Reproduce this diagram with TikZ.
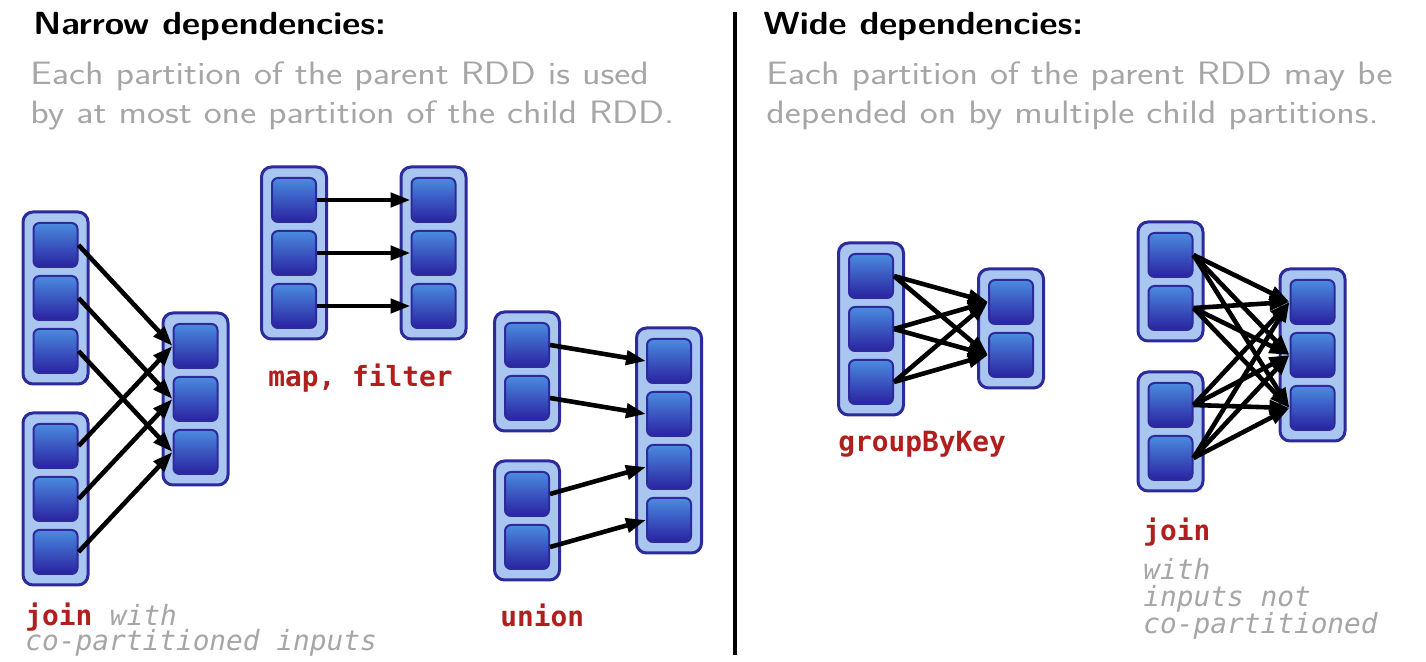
\documentclass[tikz,border=0pt]{standalone}
\usepackage{fontspec}
\usetikzlibrary{arrows.meta}
\newfontfamily\codefont{DejaVu Sans Mono}
\definecolor{rddfill}{HTML}{A9C6F0}
\definecolor{rddline}{HTML}{2D2A9C}
\definecolor{sqtop}{HTML}{4A8BDF}
\definecolor{sqbot}{HTML}{2A22A0}
\definecolor{txtgray}{HTML}{A6A6A6}
\definecolor{opred}{HTML}{B01E1E}
\newcommand\rdd[4]{% name, cx, top, n
  \draw[rddouter] ({#2-32.5},{#3}) rectangle ({#2+32.5},{#3+13+53*#4});
  \foreach \i in {1,...,#4}{
    \node[part] (#1-\i) at ({#2},{#3+33+53*(\i-1)}) {};
  }
}
\newcommand\hwide[1]{\scalebox{1.10}[1]{#1}}
\newcommand\dwide[1]{\scalebox{1.18}[1]{#1}}
\tikzset{
  rddouter/.style={fill=rddfill, draw=rddline, line width=1.5pt, rounded corners=5pt},
  part/.style={draw=rddline, line width=1pt, rounded corners=3pt, top color=sqtop, bottom color=sqbot, minimum size=22pt, inner sep=0pt},
  arr/.style={line width=2.3pt, -{Triangle[length=10pt,width=7pt]}},
  heading/.style={anchor=base west, inner sep=0pt, font=\sffamily\bfseries\fontsize{16}{19}\selectfont},
  desc/.style={anchor=base west, inner sep=0pt, text=txtgray, font=\sffamily\fontsize{16.2}{19}\selectfont},
  op/.style={anchor=base west, inner sep=0pt, text=opred, font=\codefont\bfseries\fontsize{13.9}{16}\selectfont},
  note/.style={anchor=base west, inner sep=0pt, text=txtgray, font=\codefont\itshape\fontsize{13.9}{16}\selectfont},
}
\begin{document}
\begin{tikzpicture}[x=0.5pt, y=-0.5pt]
\useasboundingbox (0,0) rectangle (1426,662);
% divider
\draw[line width=2pt] (735,12) -- (735,655);
% headings
\node[heading] (hn) at (33,35) {\hwide{Narrow dependencies:}};
\node[desc] (dn1) at (30,85) {\dwide{Each partition of the parent RDD is used}};
\node[desc] (dn2) at (30,124) {\dwide{by at most one partition of the child RDD.}};
\node[heading] (hw) at (763,35) {\hwide{Wide dependencies:}};
\node[desc] (dw1) at (766,85) {\dwide{Each partition of the parent RDD may be}};
\node[desc] (dw2) at (766,124) {\dwide{depended on by multiple child partitions.}};
% narrow join
\rdd{jA}{55.5}{212}{3}
\rdd{jB}{55.5}{413}{3}
\rdd{jC}{195.5}{313}{3}
\foreach \i in {1,2,3}{
  \draw[arr] (jA-\i.east) -- (jC-\i.west);
  \draw[arr] (jB-\i.east) -- (jC-\i.west);
}
% map, filter
\rdd{mA}{294}{167}{3}
\rdd{mB}{433.5}{167}{3}
\foreach \i in {1,2,3}{
  \draw[arr] (mA-\i.east) -- (mB-\i.west);
}
% union
\rdd{uA}{527}{312}{2}
\rdd{uB}{527}{461}{2}
\rdd{uC}{669}{328}{4}
\draw[arr] (uA-1.east) -- (uC-1.west);
\draw[arr] (uA-2.east) -- (uC-2.west);
\draw[arr] (uB-1.east) -- (uC-3.west);
\draw[arr] (uB-2.east) -- (uC-4.west);
% groupByKey
\rdd{gA}{871}{243}{3}
\rdd{gB}{1011}{269}{2}
\foreach \i in {1,2,3}{
  \foreach \j in {1,2}{
    \draw[arr] (gA-\i.east) -- (gB-\j.west);
  }
}
% wide join
\rdd{wA}{1170.5}{222}{2}
\rdd{wB}{1170.5}{372}{2}
\rdd{wC}{1312.5}{269}{3}
\foreach \i in {1,2}{
  \foreach \j in {1,2,3}{
    \draw[arr] (wA-\i.east) -- (wC-\j.west);
    \draw[arr] (wB-\i.east) -- (wC-\j.west);
  }
}
% labels
\node[op] (lj) at (25,626) {join};
\node[note, anchor=base west] (lj2) at (lj.base east) {\ with};
\node[note] (lj3) at (25,651) {co-partitioned inputs};
\node[op] (lm) at (268,387) {map, filter};
\node[op] (lu) at (500,627) {union};
\node[op] (lg) at (838,452) {groupByKey};
\node[op] (lw) at (1143,541) {join};
\node[note] (lw1) at (1143,580) {with};
\node[note] (lw2) at (1143,607) {inputs not};
\node[note] (lw3) at (1143,634) {co-partitioned};
\end{tikzpicture}
\end{document}
